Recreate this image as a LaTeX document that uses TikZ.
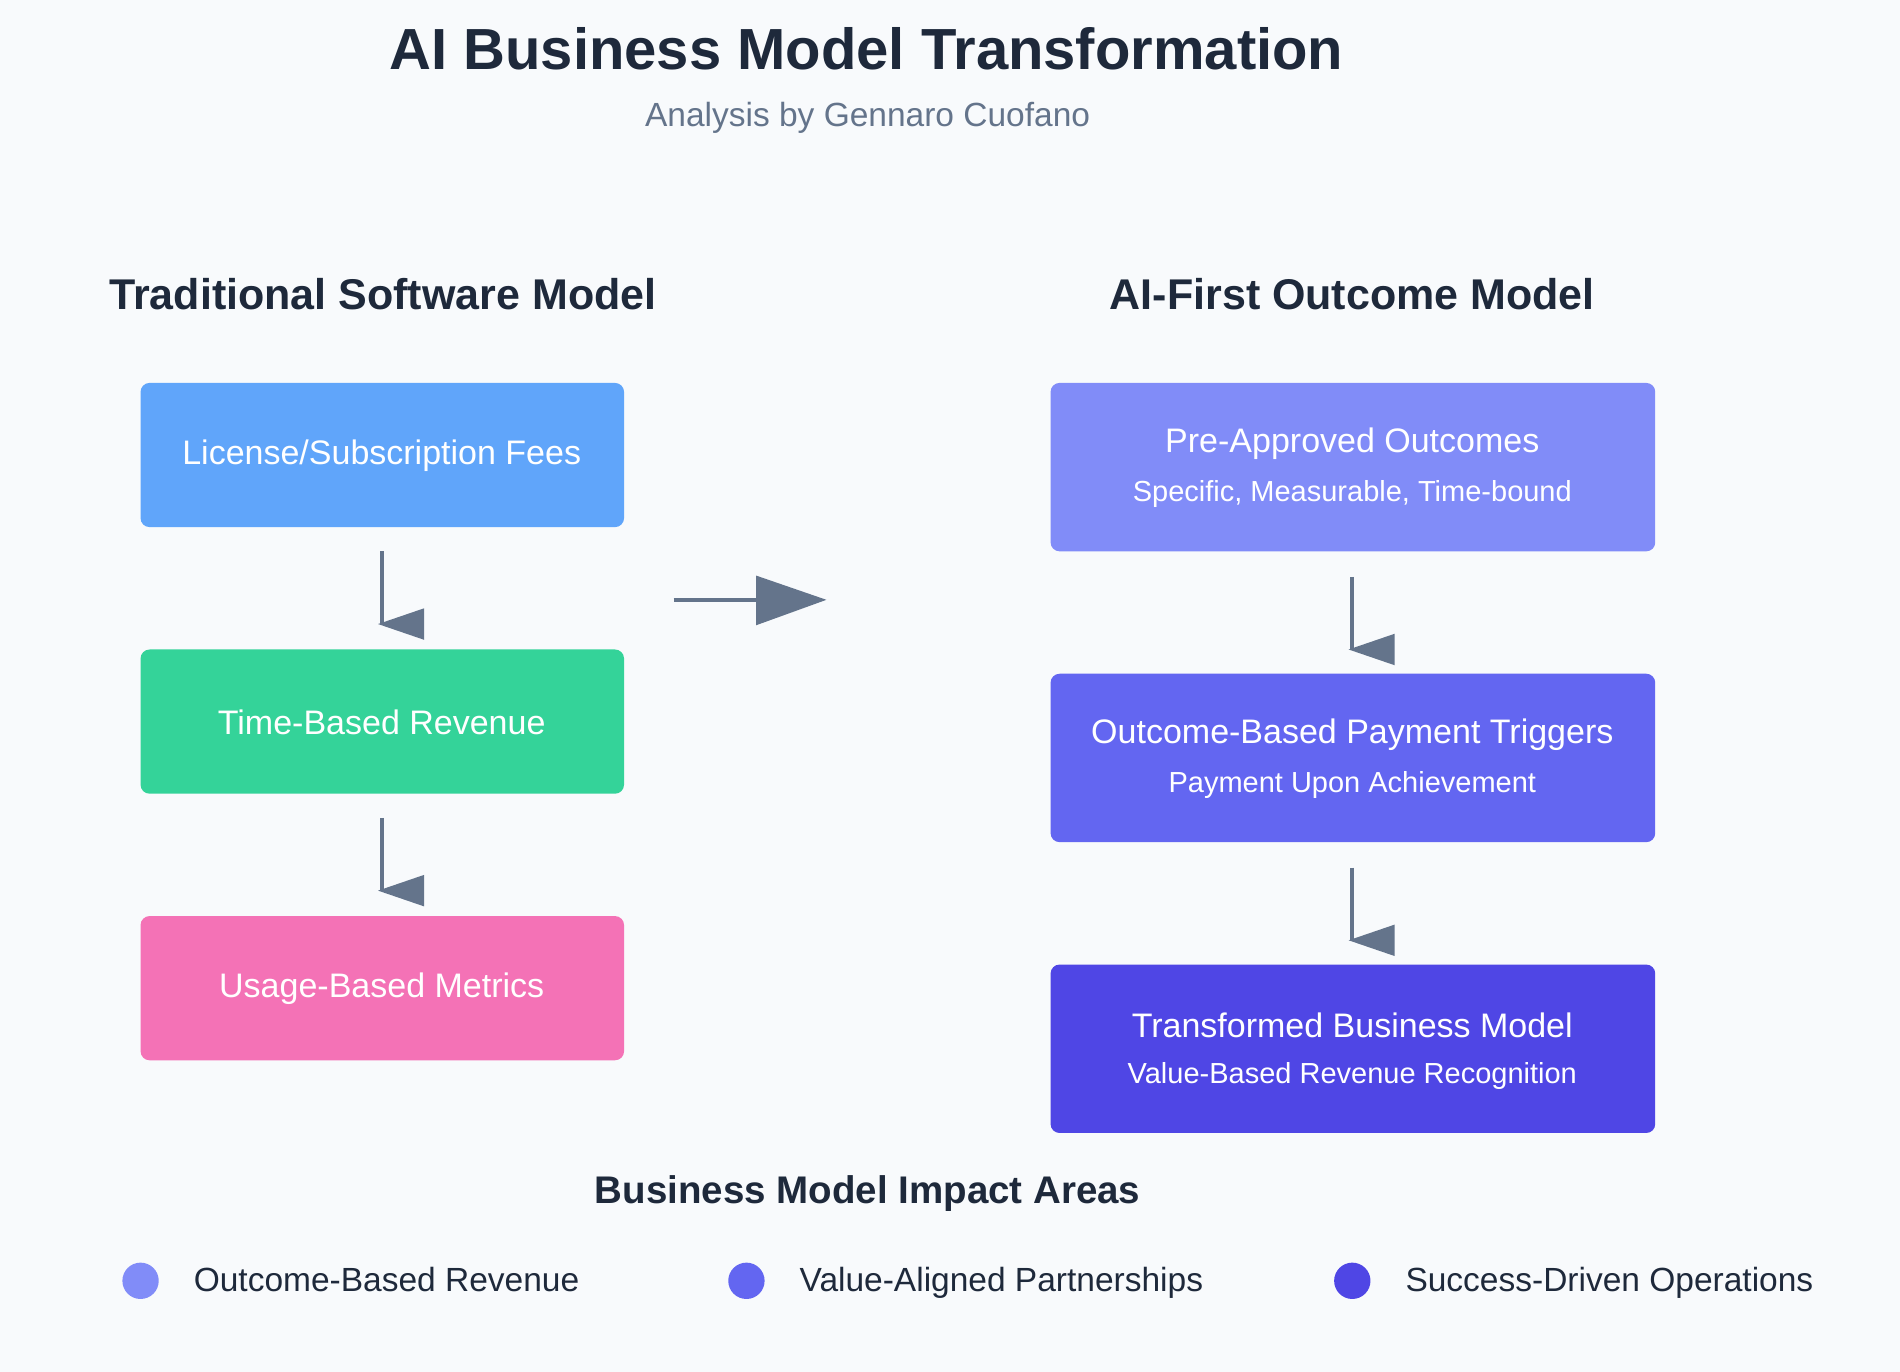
\documentclass[tikz,border=0pt]{standalone}
\usepackage{fontspec}
\setmainfont{Liberation Sans}
\begin{document}
\definecolor{bg}{HTML}{F8FAFC}\definecolor{dark}{HTML}{1E293B}\definecolor{gr}{HTML}{64748B}
\definecolor{c1}{HTML}{60A5FA}\definecolor{c2}{HTML}{34D399}\definecolor{c3}{HTML}{F472B6}
\definecolor{c4}{HTML}{818CF8}\definecolor{c5}{HTML}{6366F1}\definecolor{c6}{HTML}{4F46E5}
\begin{tikzpicture}[x=1.2117pt,y=-1.2117pt,
 box/.style={fill=#1,rounded corners=9pt,text=white,draw=none},
 con/.style={draw=gr,line width=4.2pt},
 tip/.style={fill=gr,draw=none},
 hd/.style={text=dark,font=\bfseries\fontsize{43}{50}\selectfont},
 bt/.style={text=white,font=\fontsize{34}{40}\selectfont},
 st/.style={text=white,font=\fontsize{29}{34}\selectfont},
 lg/.style={text=dark,font=\fontsize{33.5}{40}\selectfont,anchor=base west}]
\fill[bg] (0,0) rectangle (1568,1132);
\useasboundingbox (0,0) rectangle (1568,1132);
\node[text=dark,font=\bfseries\fontsize{58}{66}\selectfont] (title) at (715,40) {AI Business Model Transformation};
\node[text=gr,font=\fontsize{33.5}{40}\selectfont] (sub) at (716,97) {Analysis by Gennaro Cuofano};
\node[hd] (h1) at (316,243) {Traditional Software Model};
\node[hd] (h2) at (1116,243) {AI-First Outcome Model};
\fill[box=c1] (116,316) rectangle (515,435); \node[bt] (a1) at (315,376) {License/Subscription Fees};
\fill[box=c2] (116,536) rectangle (515,655); \node[bt] (a2) at (315,596) {Time-Based Revenue};
\fill[box=c3] (116,756) rectangle (515,875); \node[bt] (a3) at (315,816) {Usage-Based Metrics};
\fill[box=c4] (867,316) rectangle (1366,455); \node[bt] (b1) at (1116,366) {Pre-Approved Outcomes}; \node[st] (b1s) at (1116,408) {Specific, Measurable, Time-bound};
\fill[box=c5] (867,556) rectangle (1366,695); \node[bt] (b2) at (1116,606) {Outcome-Based Payment Triggers}; \node[st] (b2s) at (1116,648) {Payment Upon Achievement};
\fill[box=c6] (867,796) rectangle (1366,935); \node[bt] (b3) at (1116,846) {Transformed Business Model}; \node[st] (b3s) at (1116,888) {Value-Based Revenue Recognition};
\foreach \x/\y in {315/455,315/675,1116/476,1116/716}{
 \draw[con] (\x,\y) -- (\x,\y+60);
 \fill[tip] (\x-3,\y+60) -- (\x+35,\y+47) -- (\x+35,\y+73) -- cycle;}
\draw[con] (556,495) -- (625,495);
\fill[tip] (624,475) -- (682,495) -- (624,516) -- cycle;
\node[text=dark,font=\bfseries\fontsize{38.5}{44}\selectfont] (lt) at (716,985) {Business Model Impact Areas};
\fill[c4] (116,1057) circle (15); \node[lg] (l1) at (157,1066) {Outcome-Based Revenue};
\fill[c5] (616,1057) circle (15); \node[lg] (l2) at (657,1066) {Value-Aligned Partnerships};
\fill[c6] (1116,1057) circle (15); \node[lg] (l3) at (1157,1066) {Success-Driven Operations};
\end{tikzpicture}
\end{document}
